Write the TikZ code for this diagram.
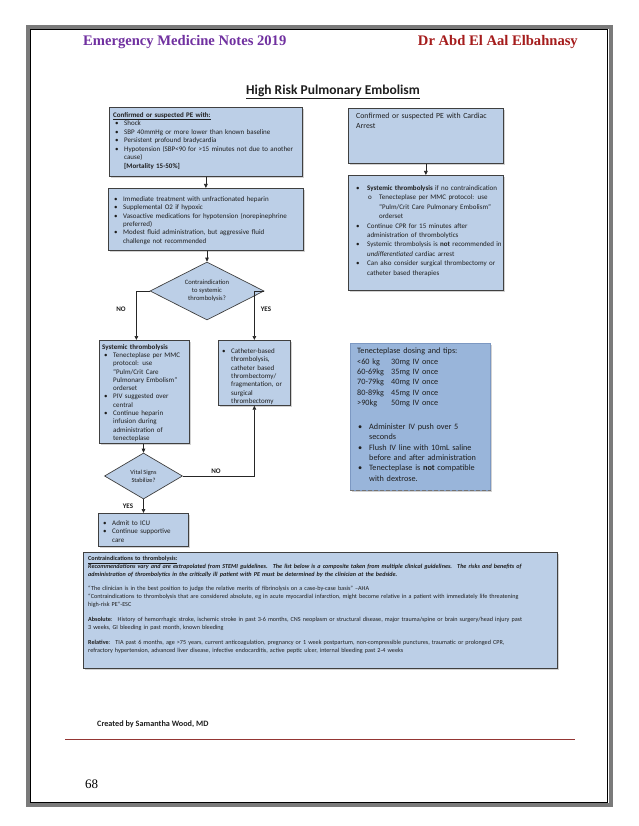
\documentclass[tikz,border=0pt]{standalone}
\usepackage{fontspec}
\setmainfont{Liberation Serif}
\newfontfamily\calf{Carlito}
\usetikzlibrary{shapes.geometric,arrows.meta,shadows}
\definecolor{boxfill}{HTML}{BCCFE7}
\definecolor{boxline}{HTML}{404040}
\definecolor{tenfill}{HTML}{99B5DA}
\definecolor{tenline}{HTML}{7C98C2}
\definecolor{hdpurple}{HTML}{7030A0}
\definecolor{hdred}{HTML}{A51C1C}
\definecolor{rulered}{HTML}{943634}
\definecolor{txtc}{HTML}{1E1E1E}
\def\nl{\hfil\break}
\newcommand\bl[1]{\par\hangindent=11pt\hangafter=1\noindent\makebox[11pt][l]{\hspace{2pt}\textbullet}#1\par}
\newcommand\blr[1]{\par\hangindent=12pt\hangafter=1\noindent\makebox[12pt][l]{\hspace{1pt}\textbullet}#1\par}
\newcommand\blsub[1]{\par\hangindent=24pt\hangafter=1\noindent\makebox[24pt][l]{\hspace{13pt}o}#1\par}
\newcommand\blt[1]{\par\hangindent=12pt\hangafter=1\noindent\makebox[12pt][l]{\hspace{1pt}\textbullet}#1\par}
\tikzset{
  box/.style={draw=boxline, fill=boxfill, line width=0.7pt, inner sep=0pt, anchor=north west,
    drop shadow={shadow xshift=1.2pt, shadow yshift=-1.2pt, opacity=0.35}},
  dia/.style={diamond, draw=boxline, fill=boxfill, line width=0.7pt, inner sep=0pt, aspect=2,
    align=center, text=txtc},
  txt/.style={anchor=north west, inner sep=0pt, text=txtc},
  sm/.style={font=\calf\fontsize{7}{8.3}\selectfont},
  conn/.style={draw=black!85, line width=0.7pt},
  arr/.style={conn, -{Triangle[length=4pt,width=3.6pt]}},
  lab/.style={font=\calf\bfseries\fontsize{7}{8}\selectfont, inner sep=0pt, text=txtc},
}
\begin{document}
\begin{tikzpicture}[x=1pt,y=-1pt]
\useasboundingbox (0,0) rectangle (638,826);
\fill[white] (0,0) rectangle (638,826);
% page frame
\draw[line width=4pt, color=black!52] (27.5,27) rectangle (610.5,805);
\draw[line width=1.1pt, color=black] (30.3,29.8) rectangle (607.7,802.2);
% header
\node[anchor=base west, inner sep=0pt, text=hdpurple, font=\bfseries\fontsize{14.6}{16}\selectfont] (hl) at (83,46) {Emergency Medicine Notes 2019};
\node[anchor=base east, inner sep=0pt, text=hdred, font=\bfseries\fontsize{14.6}{16}\selectfont] (hr) at (578,46) {Dr Abd El Aal Elbahnasy};
% title
\node[inner sep=0pt, text=txtc, font=\calf\bfseries\fontsize{13.5}{15}\selectfont] (title) at (333,92) {\underline{High Risk Pulmonary Embolism}};

% left column
\node[box, minimum width=193pt, minimum height=69pt] (b1) at (109,107) {};
\node[txt, text width=190pt, font=\calf\fontsize{7}{8.55}\selectfont] (b1t) at (113,112) {\raggedright\underline{\textbf{Confirmed or suspected PE with:}}
\bl{Shock}
\bl{SBP 40mmHg or more lower than known baseline}
\bl{Persistent profound bradycardia}
\bl{Hypotension (SBP<90 for >15 minutes not due to another\nl cause)}
\noindent\hspace*{11pt}\textbf{[Mortality 15-50\%]}\par};

\node[box, minimum width=195pt, minimum height=62pt] (b2) at (108,188) {};
\node[txt, sm, text width=192pt] (b2t) at (112,193) {\raggedright\bl{Immediate treatment with unfractionated heparin}
\bl{Supplemental O2 if hypoxic}
\bl{Vasoactive medications for hypotension (norepinephrine\nl preferred)}
\bl{Modest fluid administration, but aggressive fluid\nl challenge not recommended}};

\node[dia, minimum width=114pt, minimum height=58pt, font=\calf\fontsize{6.6}{8}\selectfont] (d1) at (207,291) {Contraindication\\to systemic\\thrombolysis?};

\node[box, minimum width=90pt, minimum height=103pt] (b3) at (99,340) {};
\node[txt, sm, text width=88pt] (b3t) at (102,344) {\raggedright\textbf{Systemic thrombolysis}
\bl{Tenecteplase per MMC\nl protocol: use\nl “Pulm/Crit Care\nl Pulmonary Embolism”\nl orderset}
\bl{PIV suggested over\nl central}
\bl{Continue heparin\nl infusion during\nl administration of\nl tenecteplase}};

\node[box, minimum width=72pt, minimum height=65pt] (b4) at (218,340) {};
\node[txt, sm, text width=70pt] (b4t) at (220,345) {\raggedright\bl{Catheter-based\nl thrombolysis,\nl catheter based\nl thrombectomy/\nl fragmentation, or\nl surgical\nl thrombectomy}};

\node[dia, minimum width=78pt, minimum height=46pt, font=\calf\fontsize{6.3}{7.8}\selectfont] (d2) at (143.5,476) {Vital Signs\\Stabilize?};

\node[box, minimum width=90pt, minimum height=33pt] (b5) at (98,513) {};
\node[txt, sm, text width=88pt] (b5t) at (101,517) {\raggedright\bl{Admit to ICU}
\bl{Continue supportive\nl care}};

% connectors left
\draw[arr] (b1.south) -- (b2.north);
\draw[arr] (b2.south -| d1.north) -- (d1.north);
\draw[arr] (d1.west) -| ([xshift=-8pt]b3.north);
\draw[arr] (d1.east) -| (b4.north);
\node[lab] (no1) at (121,309) {NO};
\node[lab] (yes1) at (266,309) {YES};
\draw[arr] (b3.south -| d2.north) -- (d2.north);
\draw[arr] (d2.east) -| (b4.south);
\node[lab] (no2) at (216,471) {NO};
\draw[arr] (d2.south) -- (d2.south |- b5.north);
\node[lab] (yes2) at (128,506) {YES};

% right column
\node[box, minimum width=155pt, minimum height=55pt] (r1) at (348,108) {};
\node[txt, text width=150pt, font=\calf\fontsize{7.8}{10}\selectfont] (r1t) at (356,113) {\raggedright Confirmed or suspected PE with Cardiac\nl Arrest};
\node[box, minimum width=155pt, minimum height=115pt] (r2) at (348,175) {};
\node[txt, text width=160pt, font=\calf\fontsize{7}{9.4}\selectfont] (r2t) at (355,181) {\raggedright\blr{\textbf{Systemic thrombolysis} if no contraindication}
\blsub{Tenecteplase per MMC protocol: use\nl “Pulm/Crit Care Pulmonary Embolism”\nl orderset}
\blr{Continue CPR for 15 minutes after\nl administration of thrombolytics}
\blr{Systemic thrombolysis is \textbf{not} recommended in\nl \textit{undifferentiated} cardiac arrest}
\blr{Can also consider surgical thrombectomy or\nl catheter based therapies}};
\draw[arr] (r1.south) -- (r2.north);

% tenecteplase box
\node[anchor=north west, inner sep=0pt, minimum width=140pt, minimum height=147pt, fill=tenfill, draw=tenline, line width=0.7pt,
  drop shadow={shadow xshift=1.5pt, shadow yshift=-1.5pt, opacity=0.35}] (r3) at (350,343) {};
\draw[black!55, line width=1.4pt, dash pattern=on 4pt off 2pt] (r3.south west) -- (r3.south east);
\node[txt, text width=135pt, font=\calf\fontsize{8.2}{10.3}\selectfont] (r3t) at (357,348) {\raggedright Tenecteplase dosing and tips:\nl
\makebox[34pt][l]{<60 kg}30mg IV once\nl
\makebox[34pt][l]{60-69kg}35mg IV once\nl
\makebox[34pt][l]{70-79kg}40mg IV once\nl
\makebox[34pt][l]{80-89kg}45mg IV once\nl
\makebox[34pt][l]{>90kg}50mg IV once\par\vspace{14pt}
\blt{Administer IV push over 5\nl seconds}
\blt{Flush IV line with 10mL saline\nl before and after administration}
\blt{Tenecteplase is \textbf{not} compatible\nl with dextrose.}};

% bottom box
\node[box, minimum width=474pt, minimum height=116pt] (bb) at (83,552) {};
\node[txt, text width=500pt, font=\calf\fontsize{6.15}{8}\selectfont] (bbt) at (88,556) {\raggedright\underline{\textbf{Contraindications to thrombolysis:}}\nl
\textbf{\textit{Recommendations vary and are extrapolated from STEMI guidelines.~ The list below is a composite taken from multiple clinical guidelines.~ The risks and benefits of}}\nl
\textbf{\textit{administration of thrombolytics in the critically ill patient with PE must be determined by the clinician at the bedside.}}\par\vspace{6pt}
“The clinician is in the best position to judge the relative merits of fibrinolysis on a case-by-case basis” –AHA\nl
“Contraindications to thrombolysis that are considered absolute, eg in acute myocardial infarction, might become relative in a patient with immediately life threatening\nl
high-risk PE”-ESC\par\vspace{7pt}
\textbf{Absolute}:~ History of hemorrhagic stroke, ischemic stroke in past 3-6 months, CNS neoplasm or structural disease, major trauma/spine or brain surgery/head injury past\nl
3 weeks, GI bleeding in past month, known bleeding\par\vspace{7pt}
\textbf{Relative}:~ TIA past 6 months, age >75 years, current anticoagulation, pregnancy or 1 week postpartum, non-compressible punctures, traumatic or prolonged CPR,\nl
refractory hypertension, advanced liver disease, infective endocarditis, active peptic ulcer, internal bleeding past 2-4 weeks\par};

% footer
\node[anchor=base west, inner sep=0pt, text=txtc, font=\calf\bfseries\fontsize{8.2}{10}\selectfont] (cr) at (97,726) {Created by Samantha Wood, MD};
\coordinate (rl) at (65,739);
\coordinate (rr) at (575,739);
\draw[rulered, line width=0.9pt] (rl) -- (rr);
\node[anchor=base west, inner sep=0pt, font=\fontsize{13}{15}\selectfont] (pg) at (85,788) {68};
\end{tikzpicture}
\end{document}
